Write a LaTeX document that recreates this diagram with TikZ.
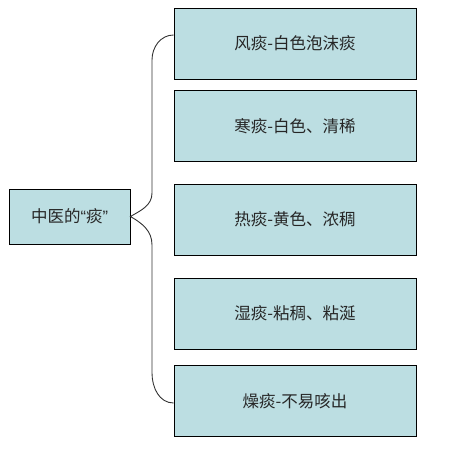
\documentclass[tikz,border=0pt]{standalone}
\usepackage{fontspec}
\newfontfamily\cjk{Noto Sans CJK SC}
\newfontfamily\latin{Liberation Sans}
\usetikzlibrary{calc}
\definecolor{boxblue}{RGB}{188,222,226}
\tikzset{
  box/.style={draw=black, line width=0.9pt, fill=boxblue, minimum width=242pt, minimum height=71pt, inner sep=0pt, text=black!85, font=\cjk\fontsize{16.5}{19}\selectfont},
  rootbox/.style={box, minimum width=121pt, minimum height=55pt},
  brace/.style={draw=black!80, line width=0.9pt}
}

\begin{document}
\begin{tikzpicture}[x=1pt, y=1pt]
		%%%%% START %%%%%
		\useasboundingbox (0,0) rectangle (455,465);
		
		\node[rootbox] (root) at (69.5, 248.5) {中医的{\latin “}痰{\latin ”}};
		
		\node[box] (fengtan) at (295, 421.5) {风痰-白色泡沫痰};
		\node[box] (hantan)  at (295, 339)   {寒痰-白色、清稀};
		\node[box] (retan)   at (295, 245.5) {热痰-黄色、浓稠};
		\node[box] (shitan)  at (295, 151.5) {湿痰-粘稠、粘涎};
		\node[box] (zaotan)  at (295, 64)    {燥痰-不易咳出};
		
		\draw[brace] ($(fengtan.west)+(0,8.5)$) to[out=180, in=90] (152, 405)
			-- (152, 272) to[out=-90, in=30] (root.east)
			to[out=-30, in=90] (152, 220)
			-- (152, 92) to[out=-90, in=180] ($(zaotan.west)+(0,-2)$);
		%%%%% END %%%%%
	\end{tikzpicture}
\end{document}
